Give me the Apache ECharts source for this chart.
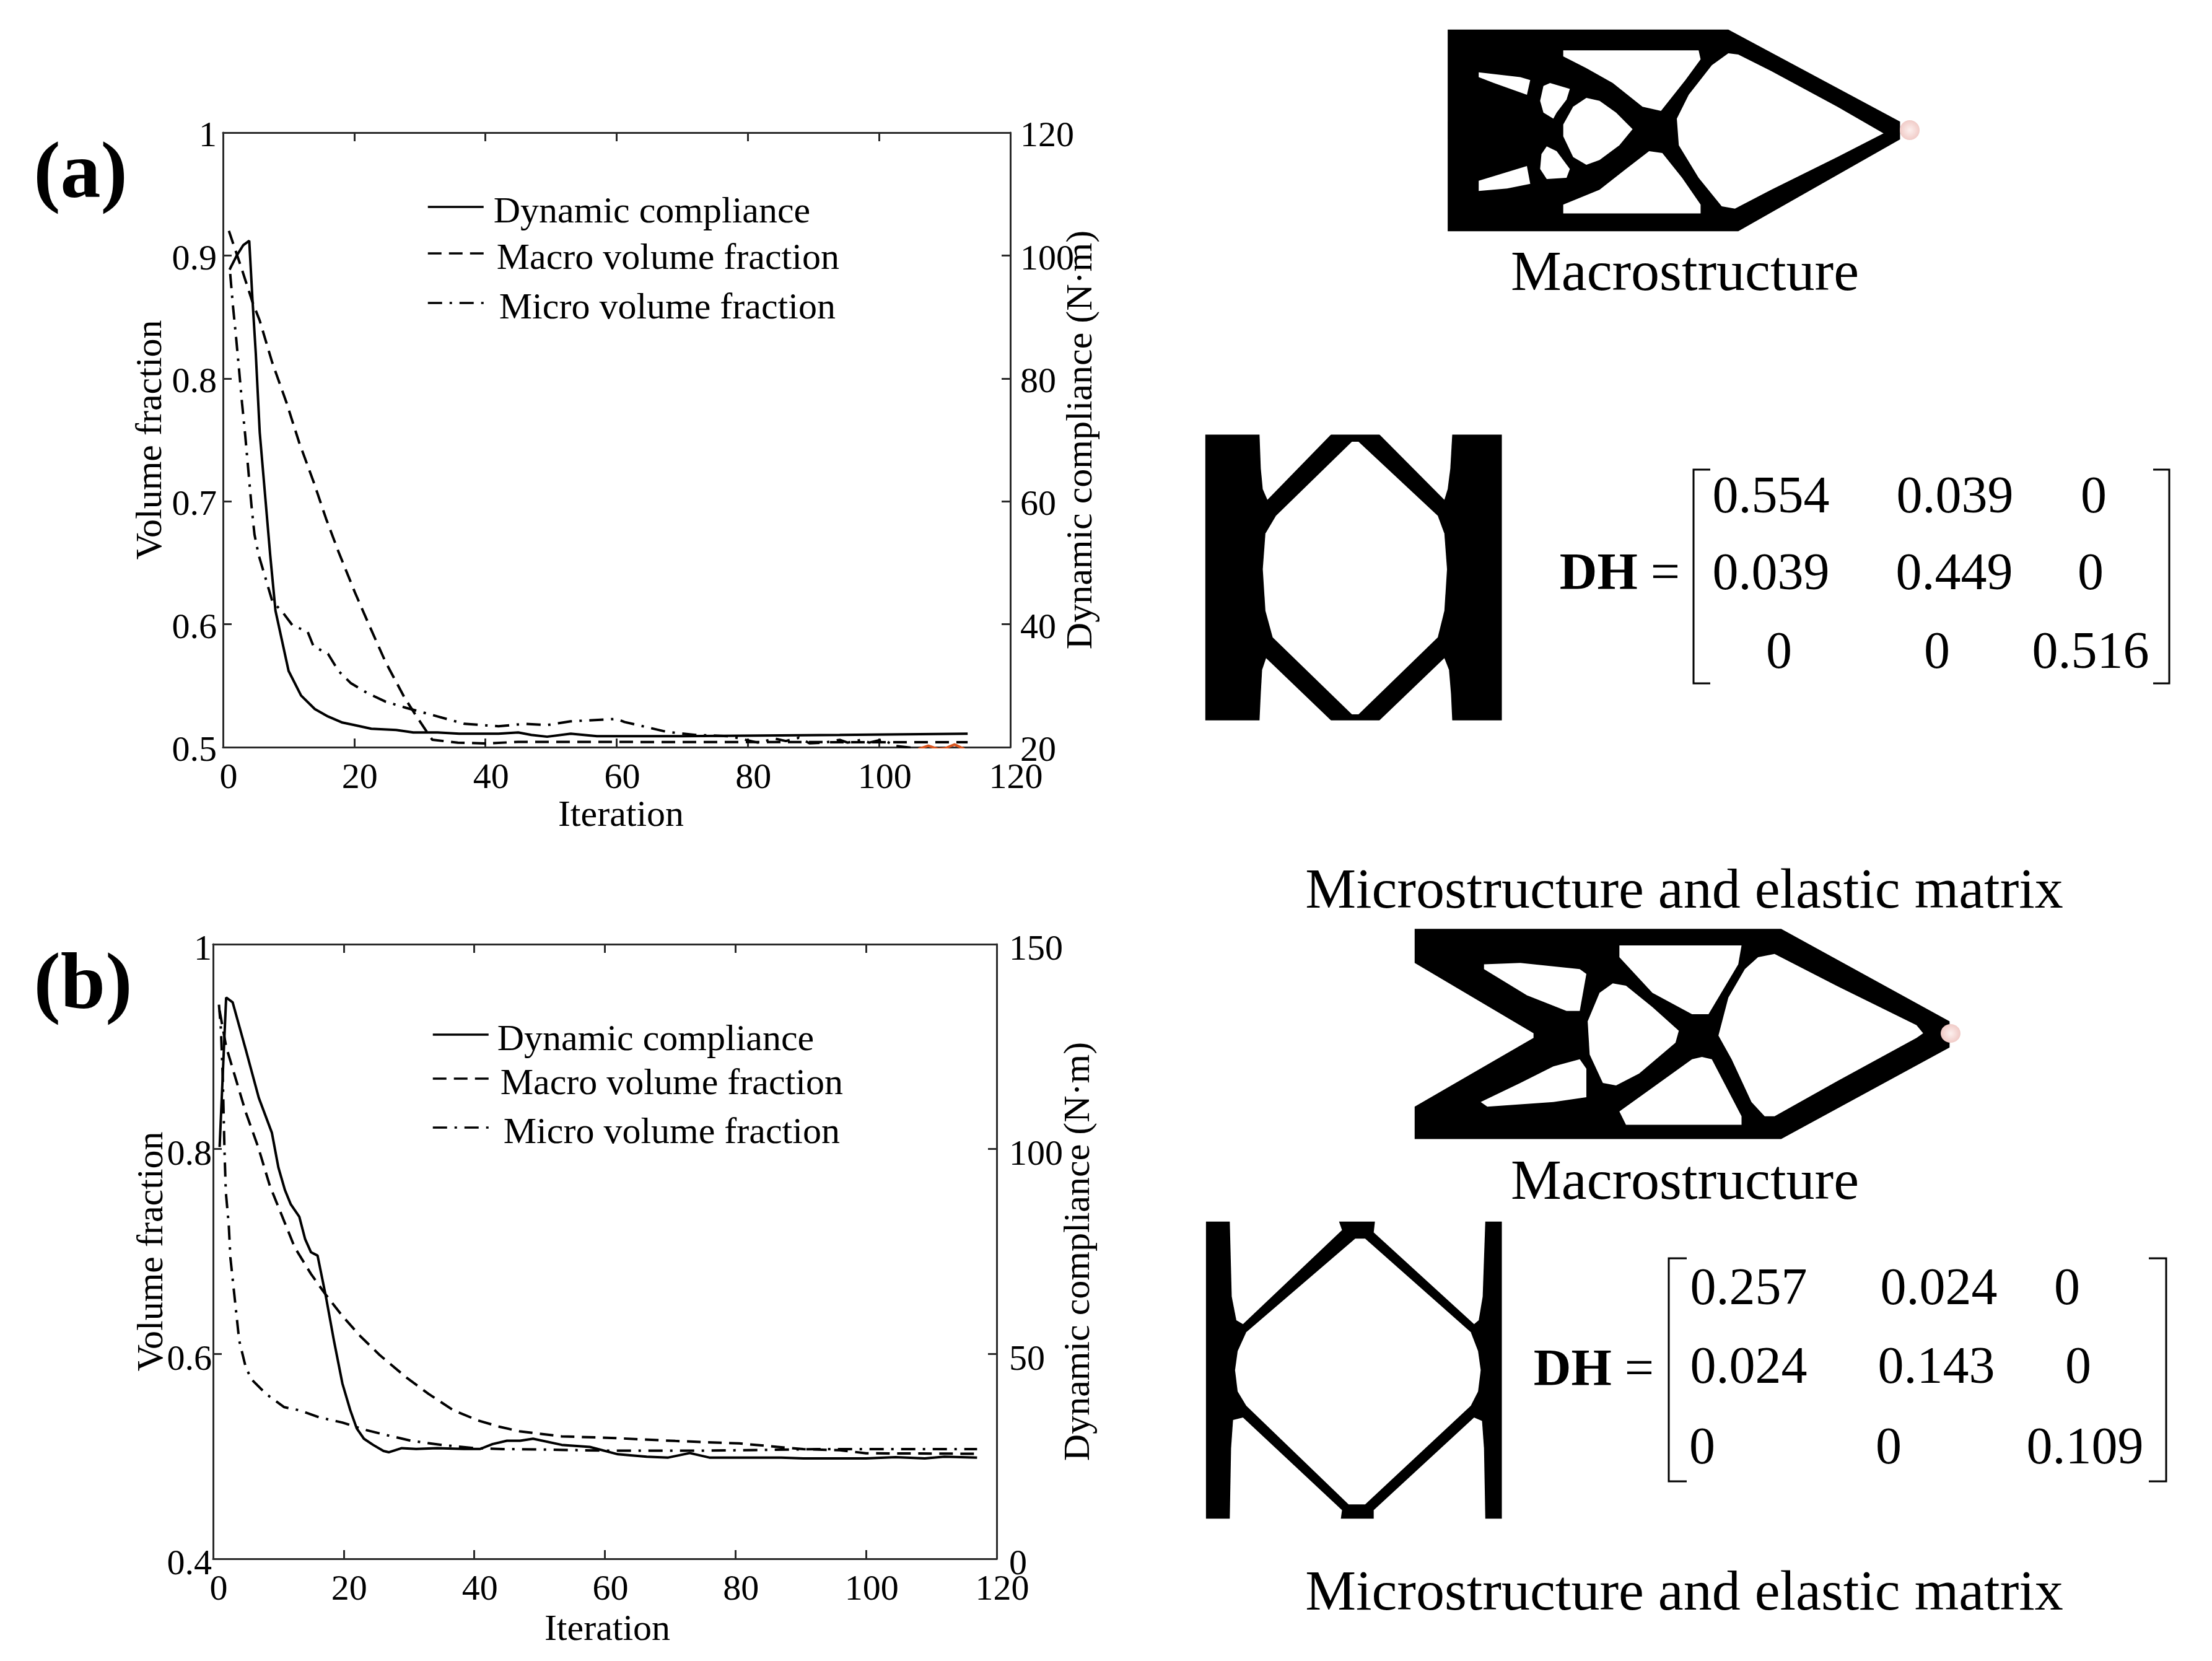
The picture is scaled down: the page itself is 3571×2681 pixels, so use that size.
<!DOCTYPE html>
<html>
<head>
<meta charset="utf-8">
<script src="https://cdn.jsdelivr.net/npm/echarts@6/dist/echarts.min.js"></script>
<style>
  html, body { margin: 0; padding: 0; background: #fff; }
  #main { width: 3571px; height: 2681px; }
</style>
</head>
<body>
<div id="main"></div>
<script>
const names = ['Dynamic compliance', 'Macro volume fraction', 'Micro volume fraction'];

// (a) compliance is on the right axis, the fractions on the left one
const aCompliance = [[1,97.7],[2.1,100],[3.1,101.7],[4,102.4],[4.5,92.7],[5,84],[5.6,71.2],[6.4,61.2],[7.2,51.2],[8,42.2],[10,32.4],[11.9,28.4],[14,26.2],[16,25],[18.2,24],[20,23.6],[22.6,23],[26.4,22.8],[29,22.4],[32.7,22.4],[36,22.2],[42,22.2],[45,22.4],[47,22],[49.4,21.7],[53,22.2],[57,21.8],[70,21.8],[94,22],[113.5,22.2]];
const aMacro = [[0.9,0.92],[2.8,0.89],[4.5,0.862],[5.6,0.847],[7.5,0.813],[9.7,0.78],[11.6,0.748],[13.8,0.716],[15.7,0.686],[17.6,0.659],[20.1,0.626],[22.3,0.599],[24.8,0.569],[27.7,0.54],[29.5,0.525],[31,0.513],[31.9,0.506],[35.8,0.5037],[40,0.503],[45,0.5043],[113.5,0.504]];
const aMicro = [[1.1,0.885],[1.5,0.86],[2,0.833],[2.45,0.807],[2.9,0.78],[3.4,0.753],[3.9,0.723],[4.35,0.696],[4.8,0.673],[5.45,0.656],[6.4,0.639],[7.5,0.619],[9.2,0.609],[10.6,0.599],[12.9,0.594],[13.8,0.582],[16,0.576],[17.6,0.562],[19.5,0.552],[22,0.544],[24.8,0.537],[27.9,0.532],[32.7,0.525],[36.8,0.519],[42,0.517],[46,0.519],[49.4,0.518],[53,0.521],[60,0.523],[61.2,0.5205],[67.6,0.5125],[72,0.51],[76.8,0.509],[78,0.508],[81.5,0.5037],[84.2,0.5069],[85.8,0.505],[87.8,0.5077],[89.4,0.5032],[91.7,0.5037],[94,0.506],[95.2,0.5037],[97.3,0.506],[98.5,0.5037],[100.6,0.5064],[102.4,0.501],[105.2,0.4994]];
const aMicroTail = [[106,0.4985],[107.5,0.5012],[109,0.4985],[110,0.499],[111.5,0.5022],[113,0.4985]];

// (b)
const bCompliance = [[1,100.5],[2,137],[3,135.8],[5,124.3],[7,112.5],[9,104],[10,95.5],[11,90],[11.9,86.5],[13.2,83.5],[14.1,78],[15,74.8],[16,74],[17.3,63.8],[18.5,53.3],[19.8,42.8],[21,36.3],[22,31.8],[23.1,29.3],[24.5,27.8],[26.1,26.3],[26.9,26],[28.9,27],[31.1,26.8],[34.3,27],[38.4,26.8],[40.9,26.8],[42.8,28],[45,28.8],[47,28.8],[49,29.3],[53.4,27.8],[57.7,27.3],[62,25.5],[66.4,24.9],[69.7,24.7],[73,25.8],[76,24.7],[87,24.7],[90.4,24.5],[100,24.5],[104.5,24.8],[109,24.5],[112,24.9],[117,24.7]];
const bMacro = [[1,0.935],[2,0.9],[3.4,0.87],[5,0.836],[6.9,0.802],[8.7,0.764],[10.6,0.734],[12.5,0.704],[15,0.678],[17,0.66],[19.8,0.637],[22.6,0.617],[25.5,0.599],[29.6,0.577],[33,0.561],[36.8,0.545],[40.6,0.535],[43.8,0.529],[46.9,0.5245],[53.4,0.5195],[61,0.518],[70.8,0.515],[80.6,0.5126],[90.4,0.507],[96,0.506],[100,0.503],[117,0.5025]];
const bMicro = [[0.9,0.941],[1.2,0.917],[1.5,0.866],[1.75,0.798],[1.95,0.758],[2.4,0.726],[2.65,0.694],[3.1,0.667],[3.5,0.643],[4,0.613],[5,0.587],[5.9,0.575],[8.1,0.561],[10.9,0.548],[13.2,0.545],[16.3,0.538],[19.8,0.533],[23.2,0.526],[26.4,0.521],[30.5,0.515],[35.2,0.511],[40,0.508],[44.4,0.507],[46.9,0.507],[60,0.5056],[76,0.5056],[92.6,0.507],[117,0.507]];

const FONT = '"Liberation Serif", "Times New Roman", serif';
const AXIS_COLOR = '#2a2a2a';
const DASH = [22, 12];
const DASH_DOT = [23, 12, 4, 12];

// series styles, same order as names
const lineStyles = [
  { color: '#000', width: 4, type: 'solid' },
  { color: '#000', width: 4, type: DASH },
  { color: '#000', width: 4, type: DASH_DOT }
];

const grids = [
  { left: 360, top: 214, width: 1271, height: 992 },
  { left: 344, top: 1524, width: 1265, height: 992 }
];

const makeSeries = (name, data, gridIdx, onRight, style) => ({
  name: name,
  type: 'line',
  xAxisIndex: gridIdx * 2,
  yAxisIndex: gridIdx * 2 + (onRight ? 1 : 0),
  data: data,
  showSymbol: false,
  symbol: 'none',
  lineStyle: style,
  itemStyle: { color: style.color },
  animation: false
});

const makeXAxes = (gridIdx, nameGap, namePad) => {
  const common = {
    type: 'value', gridIndex: gridIdx, min: 0, max: 120, interval: 20,
    splitLine: { show: false },
    axisLine: { show: true, onZero: false, lineStyle: { color: AXIS_COLOR, width: 3 } },
    axisTick: { show: true, inside: true, length: 14, lineStyle: { color: AXIS_COLOR, width: 3 } }
  };
  return [
    Object.assign({}, common, {
      position: 'bottom',
      name: 'Iteration', nameLocation: 'middle', nameGap: nameGap, nameMoveOverlap: false,
      nameTextStyle: { fontFamily: FONT, fontSize: 60, color: '#000', padding: [0, 0, 0, namePad] },
      axisLabel: { fontFamily: FONT, fontSize: 58, color: '#000', margin: 22, padding: [0, 0, 0, 18] }
    }),
    Object.assign({}, common, { position: 'top', axisLabel: { show: false } })
  ];
};

// plain text ignores vertical padding, an empty rich block switches that on
const makeYAxis = (gridIdx, side, min, max, interval, name, nameGap, labelGap, labelDrop) => ({
  type: 'value', gridIndex: gridIdx, position: side, min: min, max: max, interval: interval,
  name: name, nameLocation: 'middle', nameRotate: 90, nameGap: nameGap, nameMoveOverlap: false,
  nameTextStyle: { fontFamily: FONT, fontSize: 60, color: '#000' },
  splitLine: { show: false },
  axisLine: { show: true, onZero: false, lineStyle: { color: AXIS_COLOR, width: 3 } },
  axisTick: { show: true, inside: true, length: 14, lineStyle: { color: AXIS_COLOR, width: 3 } },
  axisLabel: {
    fontFamily: FONT, fontSize: 58, color: '#000', margin: labelGap, padding: [labelDrop, 0, 0, 0],
    rich: { n: {} },
    formatter: v => (side === 'left' ? String(+v.toFixed(1)) : String(v))
  }
});

// one legend per row, the rows are not evenly spaced in the figure
const makeLegend = (name, left, top, textOffset) => ({
  data: [name],
  left: left, top: top, orient: 'vertical', padding: 0,
  itemWidth: 90, itemHeight: 6,
  itemStyle: { opacity: 0 },
  lineStyle: { width: 3.5 },
  selectedMode: false,
  textStyle: { fontFamily: FONT, fontSize: 60, color: '#000', padding: [18, 0, 0, textOffset], rich: { n: {} } }
});

const fromTop = p => [p[0] / 0.938 + 1900, p[1] / 1.045];
const fromBottom = p => [p[0] / 0.938 + 1900, p[1] / 1.3056 + 1480];

const poly = (pts, fill, toPage) => ({
  type: 'polygon', silent: true,
  shape: { points: pts.map(toPage) },
  style: { fill: fill, stroke: null }
});
const drawing = (outer, holes, toPage) =>
  [poly(outer, '#000', toPage)].concat(holes.map(h => poly(h, '#fff', toPage)));

// middle alignment sits a little high on this font
const txt = (text, x, y, size, extra) => ({
  type: 'text', silent: true, x: x, y: y + 6,
  style: Object.assign({
    text: text, fontFamily: FONT, fontSize: size, fill: '#000', align: 'center', verticalAlign: 'middle'
  }, extra || {})
});

const bracket = (x0, x1, y0, y1) => ({
  type: 'polyline', silent: true,
  shape: { points: [[x1, y0], [x0, y0], [x0, y1], [x1, y1]] },
  style: { stroke: '#000', lineWidth: 3, fill: null }
});

const dot = (cx, cy, rx, ry) => ({
  type: 'ellipse', silent: true,
  shape: { cx: cx, cy: cy, rx: rx, ry: ry },
  style: {
    fill: { type: 'radial', x: 0.5, y: 0.5, r: 0.6, colorStops: [{ offset: 0, color: '#fdf0ee' }, { offset: 1, color: '#eec4c0' }] }
  }
});

const macroA = drawing(
  [[410,50],[835,50],[1095,205],[1095,235],[850,390],[410,390]],
  [
    [[585,85],[790,85],[793,100],[770,135],[733,187],[705,180],[660,140],[620,115],[585,95]],
    [[585,345],[640,320],[680,285],[715,255],[735,258],[765,300],[793,345],[793,360],[585,360]],
    [[835,90],[850,92],[900,120],[1000,180],[1070,225],[1000,265],[900,320],[845,352],[825,348],[790,300],[760,245],[757,200],[775,160],[810,110]],
    [[620,165],[640,170],[665,190],[690,218],[670,245],[640,270],[620,278],[600,265],[585,230],[585,210],[600,180]],
    [[457,122],[520,130],[535,135],[530,160],[480,140],[457,130]],
    [[457,305],[530,280],[535,310],[500,318],[457,322]],
    [[565,140],[595,150],[590,168],[575,190],[570,200],[555,190],[550,170],[555,145]],
    [[560,247],[575,255],[595,285],[590,300],[560,302],[550,285],[552,260]]
  ], fromTop);

const microA = drawing(
  [[43,733],[492,733],[492,1215],[43,1215]],
  [
    [[150,870],[265,745],[275,745],[395,870],[405,900],[409,960],[405,1030],[395,1075],[275,1205],[265,1205],[145,1075],[134,1030],[130,960],[134,900]],
    [[125,731],[235,731],[137,843],[130,825],[127,790]],
    [[305,731],[417,731],[414,790],[410,825],[405,843]],
    [[125,1217],[235,1217],[135,1110],[129,1130],[127,1170]],
    [[305,1217],[417,1217],[415,1170],[412,1130],[405,1110]]
  ], fromTop);

const macroB = drawing(
  [[360,25],[915,25],[1170,220],[1170,275],[915,468],[360,468],[360,400],[540,255],[540,245],[360,97]],
  [
    [[670,60],[855,60],[850,100],[805,205],[780,205],[720,160],[670,85]],
    [[795,295],[810,300],[855,420],[855,438],[680,438],[670,410],[720,360],[780,300]],
    [[880,85],[905,78],[1000,146],[1120,228],[1130,245],[1120,255],[1000,346],[905,420],[890,420],[870,390],[840,300],[820,250],[835,170],[860,110]],
    [[660,140],[680,145],[720,190],[760,240],[755,265],[700,330],[665,355],[645,350],[625,290],[622,220],[640,160]],
    [[465,100],[520,97],[610,110],[620,120],[610,198],[590,198],[530,165],[465,110]],
    [[610,300],[620,320],[620,380],[570,390],[470,400],[460,390],[520,350],[570,315]]
  ], fromBottom);

const microB = drawing(
  [[44,642],[492,642],[492,1268],[44,1268]],
  [
    [[270,678],[285,678],[445,875],[456,915],[460,955],[456,1000],[445,1030],[285,1238],[260,1238],[105,1030],[92,1000],[88,955],[92,915],[105,875]],
    [[80,640],[245,640],[250,660],[100,858],[90,850],[83,800]],
    [[300,640],[467,640],[463,800],[457,850],[450,858],[298,665]],
    [[85,1060],[100,1055],[250,1250],[248,1270],[80,1270],[82,1120]],
    [[450,1055],[462,1062],[465,1120],[467,1270],[298,1270],[298,1250]]
  ], fromBottom);

const BIG = 92, NUM = 84;
const dhRich = { rich: { b: { fontFamily: FONT, fontSize: NUM, fontWeight: 'bold', fill: '#000' }, r: { fontFamily: FONT, fontSize: NUM, fill: '#000' } } };

const graphics = [].concat(
  macroA, microA, macroB, microB,
  [
    dot(3083, 210, 16, 16),
    dot(3149, 1668, 16, 15),
    txt('(a)', 130, 278, 130, { fontWeight: 'bold' }),
    txt('(b)', 134, 1587, 130, { fontWeight: 'bold' }),
    txt('Macrostructure', 2720, 438, BIG),
    txt('Macrostructure', 2720, 1905, BIG),
    txt('Microstructure and elastic matrix', 2719, 1435, BIG),
    txt('Microstructure and elastic matrix', 2719, 2568, BIG),

    txt('{b|DH} {r|=}', 2615, 923, NUM, dhRich),
    txt('0.554', 2859, 799, NUM), txt('0.039', 3156, 799, NUM), txt('0', 3380, 799, NUM),
    txt('0.039', 2859, 923, NUM), txt('0.449', 3155, 923, NUM), txt('0', 3375, 923, NUM),
    txt('0', 2872, 1050, NUM), txt('0', 3127, 1050, NUM), txt('0.516', 3375, 1050, NUM),
    bracket(2734, 2761, 758, 1103),
    bracket(3502, 3476, 758, 1103),

    txt('{b|DH} {r|=}', 2573, 2208, NUM, dhRich),
    txt('0.257', 2823, 2077, NUM), txt('0.024', 3130, 2077, NUM), txt('0', 3337, 2077, NUM),
    txt('0.024', 2823, 2204, NUM), txt('0.143', 3126, 2204, NUM), txt('0', 3355, 2204, NUM),
    txt('0', 2748, 2334, NUM), txt('0', 3049, 2334, NUM), txt('0.109', 3366, 2334, NUM),
    bracket(2694, 2723, 2031, 2391),
    bracket(3497, 3469, 2031, 2391)
  ]
);

const myChart = echarts.init(document.getElementById('main'), null, { renderer: 'canvas' });

const option = {
  backgroundColor: '#fff',
  animation: false,
  grid: grids,
  xAxis: makeXAxes(0, 81, 14).concat(makeXAxes(1, 85, 8)),
  yAxis: [
    makeYAxis(0, 'left', 0.5, 1, 0.1, 'Volume fraction', 86, 10, 14),
    makeYAxis(0, 'right', 20, 120, 20, 'Dynamic compliance (N\u00b7m)', 85, 16, 14),
    makeYAxis(1, 'left', 0.4, 1, 0.2, 'Volume fraction', 68, 2, 20),
    makeYAxis(1, 'right', 0, 150, 50, 'Dynamic compliance (N\u00b7m)', 103, 20, 20)
  ],
  legend: [
    makeLegend(names[0], 689, 313, 11),
    makeLegend(names[1], 689, 388, 16),
    makeLegend(names[2], 689, 468, 20),
    makeLegend(names[0], 697, 1649, 9),
    makeLegend(names[1], 697, 1720, 14),
    makeLegend(names[2], 697, 1799, 19)
  ],
  series: [
    makeSeries(names[0], aCompliance, 0, true, lineStyles[0]),
    makeSeries(names[1], aMacro, 0, false, lineStyles[1]),
    makeSeries(names[2], aMicro, 0, false, lineStyles[2]),
    makeSeries('Micro tail', aMicroTail, 0, false, { color: '#d9541e', width: 4, type: 'solid' }),
    makeSeries(names[0], bCompliance, 1, true, lineStyles[0]),
    makeSeries(names[1], bMacro, 1, false, lineStyles[1]),
    makeSeries(names[2], bMicro, 1, false, lineStyles[2])
  ],
  graphic: { elements: graphics }
};

myChart.setOption(option);
</script>
</body>
</html>
